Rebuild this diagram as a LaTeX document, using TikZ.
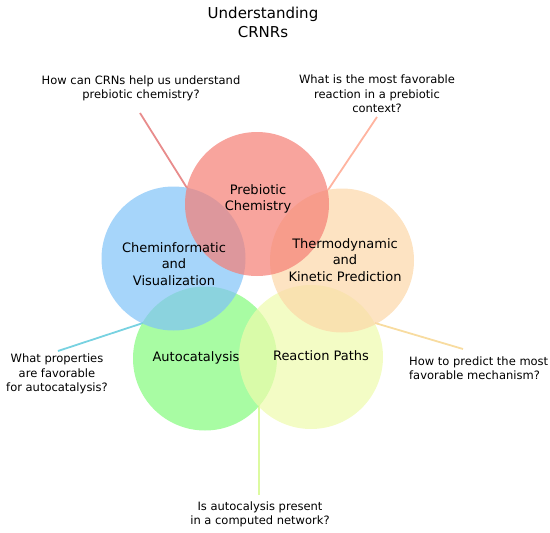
\documentclass[tikz,border=0pt]{standalone}
\usepackage{fontspec}
\setmainfont{DejaVu Sans}
\definecolor{cred}{RGB}{245,126,116}
\definecolor{cblue}{RGB}{128,195,248}
\definecolor{corange}{RGB}{252,215,168}
\definecolor{cgreen}{RGB}{131,251,124}
\definecolor{cyellow}{RGB}{238,251,172}
\definecolor{lred}{RGB}{232,140,140}
\definecolor{lsalmon}{RGB}{255,180,160}
\definecolor{lcyan}{RGB}{120,210,225}
\definecolor{lorange}{RGB}{248,220,160}
\definecolor{lgreen}{RGB}{220,250,160}
\begin{document}
\begin{tikzpicture}[x=1pt,y=-1pt,
  blob/.style={circle,minimum size=144pt,inner sep=0pt,fill opacity=0.7},
  lab/.style={font=\fontsize{13}{16.8}\selectfont,align=center,inner sep=0pt},
  qtext/.style={font=\fontsize{11.5}{14.3}\selectfont,align=center,inner sep=0pt},
  link/.style={line width=1.8pt}]
\useasboundingbox (0,0) rectangle (550,533);
% title
\node[font=\fontsize{15}{19}\selectfont,align=center,inner sep=0pt] (title) at (263,22) {Understanding\\CRNRs};
% questions
\node[qtext] (q1) at (141,88.5) {How can CRNs help us understand\\prebiotic chemistry?};
\node[qtext] (q2) at (377,94) {What is the most favorable\\reaction in a prebiotic\\context?};
\node[qtext] (q3) at (57,374) {What properties\\are favorable\\for autocatalysis?};
\node[qtext,align=left,anchor=west] (q4) at (409,368) {How to predict the most\\favorable mechanism?};
\node[qtext] (q5) at (260,514) {Is autocalysis present\\in a computed network?};
% connector end points
\coordinate (s1) at (140,113);
\coordinate (e1) at (187,188);
\coordinate (s2) at (377,117);
\coordinate (e2) at (328,190);
\coordinate (s3) at (58,351);
\coordinate (e3) at (143,323);
\coordinate (s4) at (463,349);
\coordinate (e4) at (375,323);
\coordinate (s5) at (259,495);
\coordinate (e5) at (259,405);
\draw[link,lred] (s1) -- (e1);
\draw[link,lsalmon] (s2) -- (e2);
\draw[link,lcyan] (s3) -- (e3);
\draw[link,lorange] (s4) -- (e4);
\draw[link,lgreen] (s5) -- (e5);
% circles
\node[blob,fill=cgreen] (cg) at (205,358.5) {};
\node[blob,fill=cblue] (cb) at (173.5,258.5) {};
\node[blob,fill=cyellow] (cy) at (311,357) {};
\node[blob,fill=corange] (co) at (342,260.5) {};
\node[blob,fill=cred] (cr) at (257,204) {};
% circle labels
\node[lab] (lr) at (258,199) {Prebiotic\\Chemistry};
\node[lab] (lb) at (174,264) {Cheminformatic\\and\\Visualization};
\node[lab] (lo) at (345,260) {Thermodynamic\\and\\Kinetic Prediction};
\node[lab] (lg) at (196,358) {Autocatalysis};
\node[lab] (ly) at (321,356) {Reaction Paths};
\end{tikzpicture}
\end{document}
